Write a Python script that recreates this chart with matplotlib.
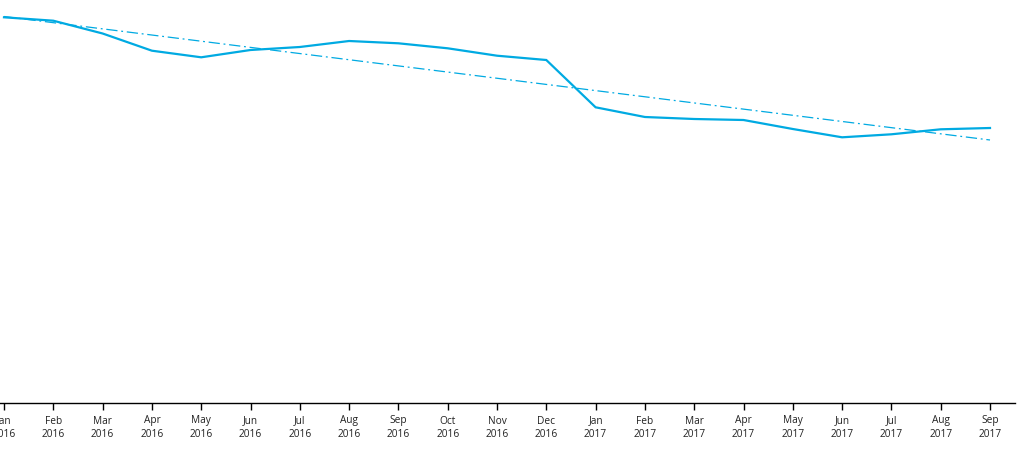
import matplotlib
matplotlib.use('Agg')
import matplotlib.pyplot as plt
import numpy as np

months = ['Jan\n2016', 'Feb\n2016', 'Mar\n2016', 'Apr\n2016', 'May\n2016', 'Jun\n2016',
          'Jul\n2016', 'Aug\n2016', 'Sep\n2016', 'Oct\n2016', 'Nov\n2016', 'Dec\n2016',
          'Jan\n2017', 'Feb\n2017', 'Mar\n2017', 'Apr\n2017', 'May\n2017', 'Jun\n2017',
          'Jul\n2017', 'Aug\n2017', 'Sep\n2017']
values = [385.7, 382.3, 369.5, 352.3, 345.7, 353.0, 356.0, 362.0, 359.7, 354.7, 347.3,
          343.0, 295.7, 286.0, 284.0, 283.0, 274.0, 265.7, 268.7, 273.7, 275.0]
# trend line start / end values
trend = [386.5, 263.0]

color = '#00aae2'

fig = plt.figure(figsize=(10.21, 4.51), dpi=100)
ax = fig.add_axes([0, 48 / 451, 1015 / 1021, 403 / 451])

x = np.arange(len(months))
ax.plot(x, values, color=color, linewidth=1.6, solid_joinstyle='miter')
ax.plot([x[0], x[-1]], trend, color=color, linewidth=0.9, linestyle='-.',
        dashes=(9, 3, 1.5, 3))

ax.set_xlim(-4 / 49.3, (1015 - 4) / 49.3)
ax.set_ylim(0, 403)

for s in ['top', 'right', 'left']:
    ax.spines[s].set_visible(False)
ax.spines['bottom'].set_linewidth(1.0)
ax.spines['bottom'].set_color('black')
ax.set_yticks([])
ax.set_xticks(x)
ax.set_xticklabels(months, fontsize=7.3, family='Open Sans', color='#222222',
                   linespacing=1.35)
ax.tick_params(axis='x', length=5, width=1, color='black', pad=4)

fig.savefig('out.png', dpi=100)
